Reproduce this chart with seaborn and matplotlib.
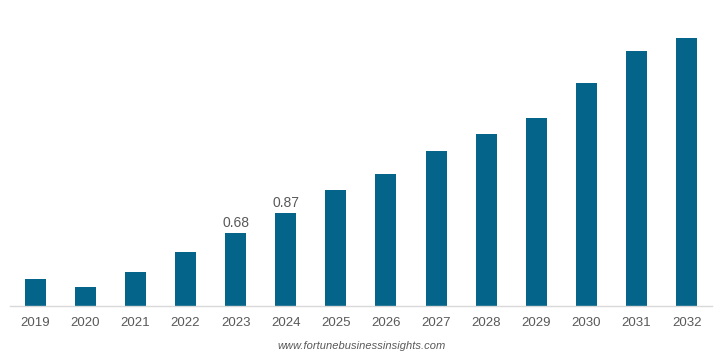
import matplotlib
matplotlib.use("Agg")
import matplotlib.pyplot as plt
import seaborn as sns
import pandas as pd

sns.set_theme(style="white")
plt.rcParams['font.family'] = ['Liberation Sans', 'DejaVu Sans']

years = ['2019', '2020', '2021', '2022', '2023', '2024', '2025',
         '2026', '2027', '2028', '2029', '2030', '2031', '2032']
values = [0.25, 0.18, 0.32, 0.50, 0.68, 0.87, 1.08,
          1.23, 1.45, 1.60, 1.75, 2.08, 2.38, 2.50]
labelled = {'2023': '0.68', '2024': '0.87'}

df = pd.DataFrame({'year': years, 'value': values})

fig = plt.figure(figsize=(7.16, 3.58), dpi=100)
ax = fig.add_axes([0.014, 0.145, 0.98, 0.827])

sns.barplot(data=df, x='year', y='value', color='#05648A', width=0.42,
            saturation=1, linewidth=0, ax=ax)

ax.set_ylim(0, 2.76)
ax.set_xlim(-0.5, len(years) - 0.5)
ax.set_xlabel('')
ax.set_ylabel('')
ax.set_yticks([])
for s in ['top', 'right', 'left']:
    ax.spines[s].set_visible(False)
ax.spines['bottom'].set_color('#d9d9d9')
ax.spines['bottom'].set_linewidth(1)
ax.tick_params(axis='x', length=0, pad=7.5, labelsize=9.5, labelcolor='#595959')

# value labels only on the base/estimate years
for i, (yr, v) in enumerate(zip(years, values)):
    if yr in labelled:
        ax.text(i, v + 0.03, labelled[yr], ha='center', va='bottom',
                fontsize=10, color='#595959')

fig.text(0.505, 0.033, 'www.fortunebusinessinsights.com', ha='center',
         va='center', fontsize=8, style='italic', color='#595959')

fig.savefig('out.png', dpi=100)
